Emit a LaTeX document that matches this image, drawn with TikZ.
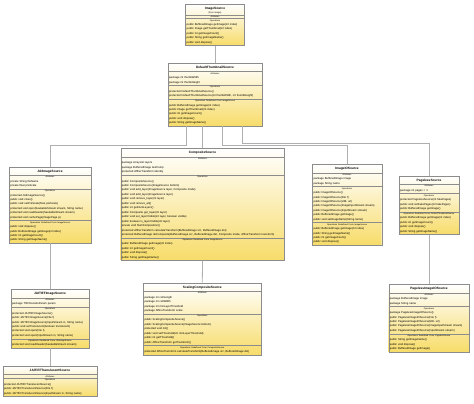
\documentclass[tikz,border=0pt]{standalone}
\usepackage{fontspec}
\setmainfont{Liberation Sans}
\usetikzlibrary{shapes.multipart}
\setlength{\parindent}{0pt}

\definecolor{umlyellow}{RGB}{247,220,105}
\definecolor{umlline}{RGB}{175,175,175}
\newcommand{\umlfont}{\fontsize{2.75}{4.45}\selectfont}
\newcommand{\umltitle}[1]{{\centering\fontsize{3.2}{4}\selectfont\bfseries\rule[-2.1pt]{0pt}{6.4pt}#1\par}}
\newcommand{\umlsec}[1]{{\centering\fontsize{2.1}{3}\selectfont #1\par}}
\newcommand{\miembros}[1]{\begin{tabular}[t]{@{}l@{}}#1\end{tabular}}

\begin{document}
\begin{tikzpicture}[x=1pt, y=-1pt,
    clase/.style={rectangle split, rectangle split parts=4, anchor=north,
      draw=black!45, line width=0.4pt, top color=white, bottom color=umlyellow,
      text width=#1, align=left, inner xsep=1.2pt, inner ysep=0.8pt, font=\umlfont},
    conector/.style={draw=umlline, line width=0.8pt}]
  \useasboundingbox (0,0) rectangle (474,404);
  % --- raiz ---
  \node[clase=56.6pt, rectangle split parts=3] (isrc) at (215,4) {\umltitle{ImageSource\\\mdseries\fontsize{2.2}{4}\selectfont (from image)}
    \nodepart{two}\umlsec{Attributes}
    \nodepart{three}\umlsec{Operations}
    \miembros{public BufferedImage getImage(int index)\\ public Image getThumbnail(int index)\\
    public int getImageCount()\\ public String getImageName()\\ public void dispose()}};
  \node[clase=91.6pt] (dts) at (215,63) {\umltitle{DefaultThumbnailSource}
    \nodepart{two}\umlsec{Attributes}
    \miembros{package int thumbWidth\\ package int thumbHeight}
    \nodepart{three}\umlsec{Operations}
    \miembros{protected DefaultThumbnailSource()\\ protected DefaultThumbnailSource(int thumbWidth, int thumbHeight)}
    \nodepart{four}\umlsec{Operations Redefined From ImageSource}
    \miembros{public BufferedImage getImage(int index)\\ public Image getThumbnail(int index)\\
    public int getImageCount()\\ public void dispose()\\ public String getImageName()}};
  % --- segundo nivel ---
  \node[clase=79.3pt] (jai) at (50,166.7) {\umltitle{JAIImageSource}
    \nodepart{two}\umlsec{Attributes}
    \miembros{private String fileName\\ private float preScale}
    \nodepart{three}\umlsec{Operations}
    \miembros{protected JAIImageSource()\\ public void close()\\ public void setPreScale(float preScale)\\
    protected void open(SeekableStream stream, String name)\\
    protected void readHeader(SeekableStream stream)\\ protected void cachePage(ImagePage p)}
    \nodepart{four}\umlsec{Operations Redefined From ImageSource}
    \miembros{public void dispose()\\ public BufferedImage getImage(int index)\\
    public int getImageCount()\\ public String getImageName()}};
  \node[clase=161.2pt] (comp) at (202.5,148.3) {\umltitle{CompositeSource}
    \nodepart{two}\umlsec{Attributes}
    \miembros{package ArrayList layers\\ package BufferedImage lastComp\\ protected AffineTransform identity}
    \nodepart{three}\umlsec{Operations}
    \miembros{public CompositeSource()\\ public CompositeSource(ImageSource bottom)\\
    public void add\_layer(ImageSource layer, Composite mode)\\ public void add\_layer(ImageSource layer)\\
    public void remove\_layer(int layer)\\ public void remove\_all()\\ public int getNumLayers()\\
    public Composite get\_layer(int layer)\\ public void set\_layerVisible(int layer, boolean visible)\\
    public boolean is\_layerVisible(int layer)\\ private void flushComposition()\\
    protected AffineTransform calculateTransform(BufferedImage src, BufferedImage dst)\\
    protected BufferedImage doComposite(BufferedImage src, BufferedImage dst, Composite mode, AffineTransform transform)}
    \nodepart{four}\umlsec{Operations Redefined From ImageSource}
    \miembros{public BufferedImage getImage(int index)\\ public int getImageCount()\\
    public void dispose()\\ public String getImageName()}};
  \node[clase=67pt] (iio) at (347,164.3) {\umltitle{ImageIOSource}
    \nodepart{two}\umlsec{Attributes}
    \miembros{package BufferedImage image\\ package String name}
    \nodepart{three}\umlsec{Operations}
    \miembros{public ImageIOSource()\\ public ImageIOSource(File f)\\ public ImageIOSource(URL url)\\
    public ImageIOSource(ImageInputStream stream)\\ public ImageIOSource(InputStream stream)\\
    public BufferedImage getImage()\\ public void setImageName(String name)}
    \nodepart{four}\umlsec{Operations Redefined From ImageSource}
    \miembros{public BufferedImage getImage(int index)\\ public String getImageName()\\
    public int getImageCount()\\ public void dispose()}};
  \node[clase=57.6pt] (pls) at (429,175.7) {\umltitle{PagelessSource}
    \nodepart{two}\umlsec{Attributes}
    \miembros{package int pages = 1}
    \nodepart{three}\umlsec{Operations}
    \miembros{protected PagelessSource(int fakePages)\\ public void setFakePages(int fakePages)\\
    public BufferedImage getImage()}
    \nodepart{four}\umlsec{Operations Redefined From DefaultThumbnailSource}
    \miembros{public BufferedImage getImage(int index)\\ public int getImageCount()\\
    public void dispose()\\ public String getImageName()}};
  % --- tercer nivel ---
  \node[clase=75.6pt] (jaitiff) at (50,289.3) {\umltitle{JAITIFFImageSource}
    \nodepart{two}\umlsec{Attributes}
    \miembros{package TIFFDecodeParam param}
    \nodepart{three}\umlsec{Operations}
    \miembros{protected JAITIFFImageSource()\\ public JAITIFFImageSource(File f)\\
    public JAITIFFImageSource(InputStream in, String name)\\
    public void setTranslucent(boolean translucent)\\
    protected void open(File f)\\ protected void open(InputStream in, String name)}
    \nodepart{four}\umlsec{Operations Redefined From JAIImageSource}
    \miembros{protected void readHeader(SeekableStream stream)}};
  \node[clase=115.6pt] (scal) at (202.3,282.7) {\umltitle{ScalingCompositeSource}
    \nodepart{two}\umlsec{Attributes}
    \miembros{package int cellLength\\ package int cellWidth\\ package int minLayerThreshold\\
    package AffineTransform scale}
    \nodepart{three}\umlsec{Operations}
    \miembros{public ScalingCompositeSource()\\ public ScalingCompositeSource(ImageSource bottom)\\
    protected void init()\\ public void setThreshold(int minLayerThreshold)\\
    public int getThreshold()\\ public AffineTransform getTransform()}
    \nodepart{four}\umlsec{Operations Redefined From CompositeSource}
    \miembros{protected AffineTransform calculateTransform(BufferedImage src, BufferedImage dst)}};
  \node[clase=78.2pt] (plsio) at (429,284.3) {\umltitle{PagelessImageIOSource}
    \nodepart{two}\umlsec{Attributes}
    \miembros{package BufferedImage image\\ package String name}
    \nodepart{three}\umlsec{Operations}
    \miembros{package PagelessImageIOSource()\\ public PagelessImageIOSource(File f)\\
    public PagelessImageIOSource(URL url)\\ public PagelessImageIOSource(ImageInputStream stream)\\
    public PagelessImageIOSource(InputStream stream)}
    \nodepart{four}\umlsec{Operations Redefined From PagelessSource}
    \miembros{public String getImageName()\\ public void dispose()\\ public BufferedImage getImage()}};
  % --- cuarto nivel ---
  \node[clase=91.6pt, rectangle split parts=3] (jaitrans) at (50,366) {\umltitle{JAITIFFTranslucentSource}
    \nodepart{two}\umlsec{Attributes}
    \nodepart{three}\umlsec{Operations}
    \miembros{protected JAITIFFTranslucentSource()\\ public JAITIFFTranslucentSource(File f)\\
    public JAITIFFTranslucentSource(InputStream in, String name)}};
  % conectores
  \draw[conector] (isrc.south) -- (dts.north);
  \draw[conector] ([xshift=-29pt]dts.south) -- ++(0,19) -| (jai.north);
  \draw[conector] (comp.north) -- (comp.north |- dts.south);
  \draw[conector] ([xshift=7pt]dts.south) -- ++(0,19) -| (iio.north);
  \draw[conector] ([xshift=27pt]dts.south) -- ++(0,17) -| (pls.north);
  \draw[conector] (jai.south) -- (jaitiff.north);
  \draw[conector] (jaitiff.south) -- (jaitrans.north);
  \draw[conector] (comp.south) -- (scal.north);
  \draw[conector] (pls.south) -- (plsio.north);
\end{tikzpicture}
\end{document}
